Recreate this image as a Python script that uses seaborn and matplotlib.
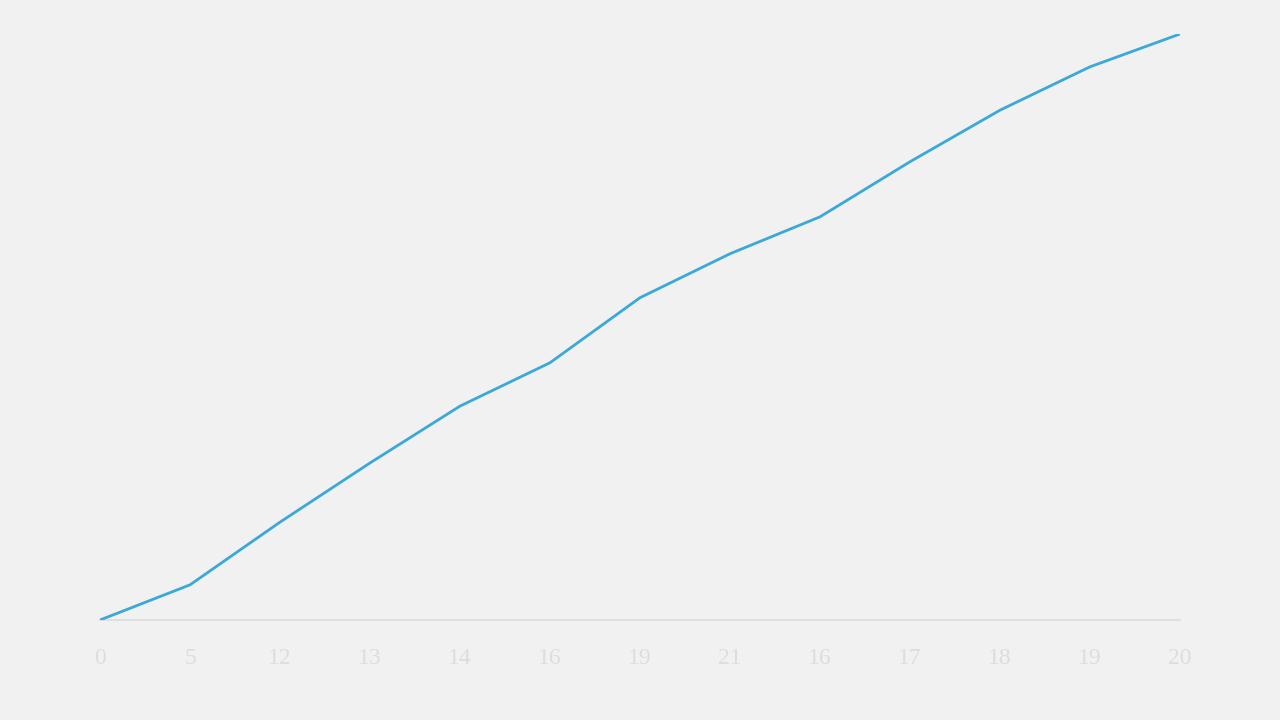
import seaborn as sns
import matplotlib.pyplot as plt
import pandas as pd

x_labels = ["0", "5", "12", "13", "14", "16", "19", "21", "16", "17", "18", "19", "20"]
values = [0, 6, 16.7, 26.8, 36.5, 43.9, 55.0, 62.5, 68.8, 78.2, 87.0, 94.4, 100]

df = pd.DataFrame({"pos": range(len(values)), "value": values})

sns.set_style("white")
bg = "#f1f1f1"
fig = plt.figure(figsize=(12.8, 7.2), dpi=100, facecolor=bg)
ax = fig.add_axes([100 / 1280, 1 - 620 / 720, 1080 / 1280, 586 / 720])
ax.set_facecolor(bg)

sns.lineplot(data=df, x="pos", y="value", ax=ax, color="#3aa8d8", linewidth=2)

ax.set_xlim(0, len(values) - 1)
ax.set_ylim(0, 100)
ax.set_xticks(range(len(x_labels)))
ax.set_xticklabels(x_labels, family="Liberation Serif", fontsize=17, color="#dddddd")
ax.tick_params(axis="x", length=0, pad=20)
ax.set_yticks([])
ax.set_xlabel("")
ax.set_ylabel("")
for side in ["top", "right", "left"]:
    ax.spines[side].set_visible(False)
ax.spines["bottom"].set_color("#dcdcdc")
ax.spines["bottom"].set_linewidth(1.2)
ax.spines["bottom"].set_zorder(0)

plt.savefig("out.png", dpi=100, facecolor=bg)
